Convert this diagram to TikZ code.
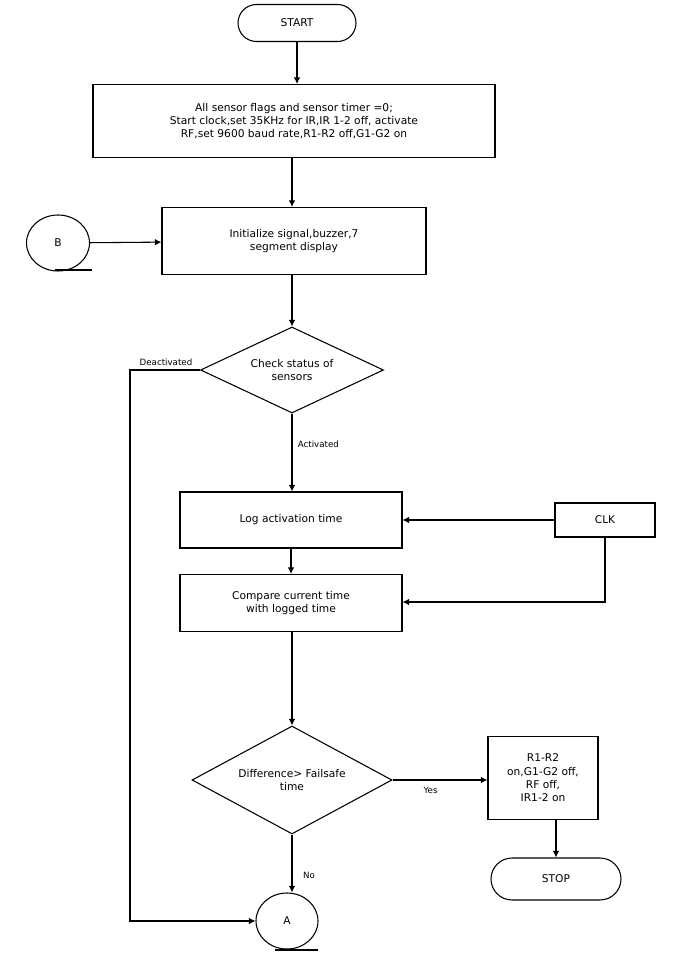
\documentclass[tikz,border=0pt]{standalone}
\usepackage{fontspec}
\setmainfont{DejaVu Sans}
\usetikzlibrary{shapes.geometric,shapes.misc,arrows.meta}
\begin{document}
\begin{tikzpicture}[x=0.75pt,y=-0.75pt,
 font=\fontsize{8}{10}\selectfont,
 every node/.style={inner sep=0pt,align=center},
 boxs/.style={draw,thick,rectangle},
 term/.style={draw,thick,rounded rectangle},
 dia/.style={draw,thick,diamond,aspect=2.1},
 conn/.style={draw,thick,ellipse},
 arr/.style={thick,-{Latex[length=5pt,width=5pt]}},
 lbl/.style={font=\fontsize{6.5}{8}\selectfont}]
\useasboundingbox (0,0) rectangle (678,973);
\node[term,minimum width=118*0.75pt,minimum height=37*0.75pt] (start) at (297,23) {START};
\node[boxs,minimum width=402*0.75pt,minimum height=73*0.75pt] (b1) at (294,121) {All sensor flags and sensor timer =0;\\Start clock,set 35KHz for IR,IR 1-2 off, activate\\RF,set 9600 baud rate,R1-R2 off,G1-G2 on};
\node[boxs,minimum width=264*0.75pt,minimum height=67*0.75pt] (b2) at (294,241) {Initialize signal,buzzer,7\\segment display};
\node[conn,minimum width=63*0.75pt,minimum height=56*0.75pt] (B) at (58,243) {B};
\draw[thick] (55,270) -- (92,270);
\node[dia,minimum width=183*0.75pt,minimum height=86*0.75pt] (d1) at (292,370) {Check status of\\sensors};
\node[boxs,minimum width=222*0.75pt,minimum height=56*0.75pt] (b3) at (291,520) {Log activation time};
\node[boxs,minimum width=100*0.75pt,minimum height=34*0.75pt] (clk) at (605,520) {CLK};
\node[boxs,minimum width=222*0.75pt,minimum height=57*0.75pt] (b4) at (291,603) {Compare current time\\with logged time};
\node[dia,minimum width=200*0.75pt,minimum height=108*0.75pt] (d2) at (292,780) {Difference> Failsafe\\time};
\node[boxs,minimum width=110*0.75pt,minimum height=83*0.75pt] (r) at (543,778) {R1-R2\\on,G1-G2 off,\\RF off,\\IR1-2 on};
\node[term,minimum width=130*0.75pt,minimum height=42*0.75pt] (stop) at (556,879) {STOP};
\node[conn,minimum width=62*0.75pt,minimum height=56*0.75pt] (A) at (287,921) {A};
\draw[thick] (275,950) -- (318,950);
\coordinate (dl) at (130,370);
\coordinate (al) at (130,921);
\coordinate (ck) at (605,602);
\draw[arr] (start.south) -- (start.south |- b1.north);
\draw[arr] (b1.south -| 292,0) -- (b2.north -| 292,0);
\draw[arr] (B) -- (b2);
\draw[arr] (b2.south -| 292,0) -- (d1.north);
\draw[arr] (d1.south) -- (b3.north -| d1.south) node[pos=0.4,right=4pt,lbl]{Activated};
\draw[arr] (d1.west) -- (dl) -- (al) -- (A.west);
\node[lbl,anchor=south] at (166,366) {Deactivated};
\draw[arr] (clk) -- (b3);
\draw[arr] (clk.south) -- (ck) -- (b4.east |- ck);
\draw[arr] (b3) -- (b4);
\draw[arr] (b4.south -| d2.north) -- (d2.north);
\draw[arr] (d2.east) -- (r.west |- d2.east) node[pos=0.4,below=5pt,lbl]{Yes};
\draw[arr] (r.south -| stop.north) -- (stop.north);
\draw[arr] (d2.south) -- (A.north -| d2.south) node[pos=0.7,right=8pt,lbl]{No};
\end{tikzpicture}
\end{document}
